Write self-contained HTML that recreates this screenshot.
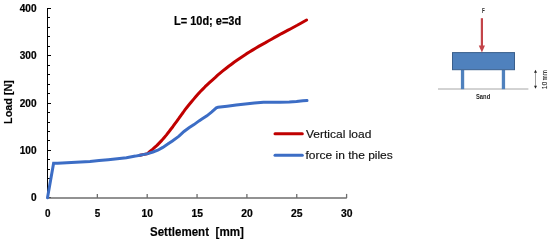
<!DOCTYPE html>
<html><head><meta charset="utf-8"><style>
html,body{margin:0;padding:0;background:#fff;}
body{width:550px;height:242px;overflow:hidden;}
svg{display:block;}
text{font-family:"Liberation Sans",sans-serif;}
</style></head><body>
<svg width="550" height="242" viewBox="0 0 550 242">
<rect width="550" height="242" fill="#fff"/>
<g stroke="#000" stroke-width="1" shape-rendering="crispEdges">
<line x1="47.5" y1="8.4" x2="47.5" y2="198"/>
<line x1="47.5" y1="197.80" x2="51.2" y2="197.80"/><line x1="47.5" y1="188.33" x2="49.8" y2="188.33"/><line x1="47.5" y1="178.86" x2="49.8" y2="178.86"/><line x1="47.5" y1="169.39" x2="49.8" y2="169.39"/><line x1="47.5" y1="159.92" x2="49.8" y2="159.92"/><line x1="47.5" y1="150.45" x2="51.2" y2="150.45"/><line x1="47.5" y1="140.98" x2="49.8" y2="140.98"/><line x1="47.5" y1="131.51" x2="49.8" y2="131.51"/><line x1="47.5" y1="122.04" x2="49.8" y2="122.04"/><line x1="47.5" y1="112.57" x2="49.8" y2="112.57"/><line x1="47.5" y1="103.10" x2="51.2" y2="103.10"/><line x1="47.5" y1="93.63" x2="49.8" y2="93.63"/><line x1="47.5" y1="84.16" x2="49.8" y2="84.16"/><line x1="47.5" y1="74.69" x2="49.8" y2="74.69"/><line x1="47.5" y1="65.22" x2="49.8" y2="65.22"/><line x1="47.5" y1="55.75" x2="51.2" y2="55.75"/><line x1="47.5" y1="46.28" x2="49.8" y2="46.28"/><line x1="47.5" y1="36.81" x2="49.8" y2="36.81"/><line x1="47.5" y1="27.34" x2="49.8" y2="27.34"/><line x1="47.5" y1="17.87" x2="49.8" y2="17.87"/><line x1="47.5" y1="8.40" x2="51.2" y2="8.40"/>
</g>
<g stroke="#6e6e6e" stroke-width="1.3">
<line x1="47" y1="198" x2="346.8" y2="198"/>
<line x1="97.35" y1="198" x2="97.35" y2="193.9"/><line x1="147.20" y1="198" x2="147.20" y2="193.9"/><line x1="197.05" y1="198" x2="197.05" y2="193.9"/><line x1="246.90" y1="198" x2="246.90" y2="193.9"/><line x1="296.75" y1="198" x2="296.75" y2="193.9"/><line x1="346.60" y1="198" x2="346.60" y2="193.9"/>
</g>
<g font-size="9.5" font-weight="bold" fill="#000" stroke="#000" stroke-width="0.2">
<text x="30.9" y="201.3" font-size="10" textLength="5.6" lengthAdjust="spacingAndGlyphs">0</text><text x="19.7" y="154.0" font-size="10" textLength="16.8" lengthAdjust="spacingAndGlyphs">100</text><text x="19.7" y="106.6" font-size="10" textLength="16.8" lengthAdjust="spacingAndGlyphs">200</text><text x="19.7" y="59.3" font-size="10" textLength="16.8" lengthAdjust="spacingAndGlyphs">300</text><text x="19.7" y="11.9" font-size="10" textLength="16.8" lengthAdjust="spacingAndGlyphs">400</text>
<text x="44.9" y="216.8" font-size="10" textLength="5.5" lengthAdjust="spacingAndGlyphs">0</text><text x="94.7" y="216.8" font-size="10" textLength="5.5" lengthAdjust="spacingAndGlyphs">5</text><text x="141.5" y="216.8" font-size="10" textLength="11.5" lengthAdjust="spacingAndGlyphs">10</text><text x="191.4" y="216.8" font-size="10" textLength="11.5" lengthAdjust="spacingAndGlyphs">15</text><text x="241.2" y="216.8" font-size="10" textLength="11.5" lengthAdjust="spacingAndGlyphs">20</text><text x="291.1" y="216.8" font-size="10" textLength="11.5" lengthAdjust="spacingAndGlyphs">25</text><text x="341.0" y="216.8" font-size="10" textLength="11.5" lengthAdjust="spacingAndGlyphs">30</text>
</g>
<text x="150" y="236.4" font-size="12.4" font-weight="bold" stroke="#000" stroke-width="0.15" textLength="59" lengthAdjust="spacingAndGlyphs">Settlement</text><text x="215.6" y="236.4" font-size="12.4" font-weight="bold" stroke="#000" stroke-width="0.15" textLength="28.4" lengthAdjust="spacingAndGlyphs">[mm]</text>
<text transform="translate(11.6,124) rotate(-90)" x="0" y="0" font-size="11.2" font-weight="bold" stroke="#000" stroke-width="0.15" textLength="44" lengthAdjust="spacingAndGlyphs">Load [N]</text>
<text x="174.1" y="24.7" font-size="12" font-weight="bold" stroke="#000" stroke-width="0.2" textLength="67" lengthAdjust="spacingAndGlyphs">L= 10d; e=3d</text>
<polyline points="140.0,155.2 143.0,154.6 147.9,153.6 149.0,152.1 151.8,150.0 154.4,147.7 157.0,145.4 159.4,142.9 161.8,140.4 164.1,137.7 166.3,135.1 168.5,132.3 170.6,129.5 172.8,126.7 174.8,123.9 176.9,121.1 179.0,118.2 181.0,115.3 183.1,112.5 185.1,109.7 187.2,107.0 189.4,104.3 191.5,101.7 193.7,99.1 195.9,96.5 198.1,94.0 200.4,91.5 202.8,89.1 205.1,86.7 207.6,84.3 210.0,82.1 212.6,79.8 215.1,77.6 217.7,75.2 220.4,72.9 223.1,70.7 225.9,68.5 228.7,66.3 231.5,64.2 234.4,62.0 237.3,60.0 240.3,57.9 243.3,55.9 246.3,53.9 249.4,52.0 252.5,50.1 255.6,48.2 258.7,46.4 261.9,44.6 265.1,42.9 268.3,41.0 271.5,39.2 274.7,37.4 277.9,35.6 281.1,33.8 284.4,32.1 287.6,30.4 290.8,28.7 294.0,27.0 297.2,25.3 300.4,23.5 303.5,21.7 306.6,20.0" fill="none" stroke="#C00000" stroke-width="3" stroke-linejoin="round" stroke-linecap="round"/>
<polyline points="47.5,197.8 53.6,163.3 57.6,163.2 71.3,162.5 90.0,161.4 99.1,160.6 108.2,159.7 117.3,158.8 126.4,157.7 135.5,156.1 140.0,155.2 143.0,154.6 147.9,153.6 152.9,152.0 157.8,150.2 162.8,147.4 167.8,144.1 172.4,140.9 179.0,136.2 184.0,131.5 189.0,127.8 194.0,124.6 199.0,120.9 201.9,119.0 206.9,115.8 211.8,111.9 216.3,107.8 218.0,107.3 227.1,106.3 236.2,105.1 245.3,104.0 254.4,103.0 263.5,102.3 271.1,102.2 280.2,102.2 289.3,102.0 296.5,101.5 302.9,100.8 307.0,100.6" fill="none" stroke="#3C6DC5" stroke-width="3" stroke-linejoin="miter" stroke-miterlimit="6" stroke-linecap="round"/>
<line x1="275" y1="133.8" x2="302.3" y2="133.8" stroke="#C00000" stroke-width="3" stroke-linecap="round"/>
<line x1="275" y1="155.2" x2="302.3" y2="155.2" stroke="#3C6DC5" stroke-width="3" stroke-linecap="round"/>
<text x="306" y="137.6" font-size="10.6" textLength="65.3" lengthAdjust="spacingAndGlyphs" fill="#111" stroke="#111" stroke-width="0.15">Vertical load</text>
<text x="305.5" y="158.7" font-size="10.6" textLength="87.3" lengthAdjust="spacingAndGlyphs" fill="#111" stroke="#111" stroke-width="0.15">force in the piles</text>
<!-- diagram -->
<line x1="438" y1="89" x2="528.4" y2="89" stroke="#a6a6a6" stroke-width="1"/>
<rect x="460.9" y="70" width="3.3" height="19.2" fill="#4F81BD"/>
<rect x="501.8" y="70" width="3.3" height="19.2" fill="#4F81BD"/>
<rect x="452.5" y="52.6" width="62" height="17.1" fill="#4F81BD" stroke="#3A5F8C" stroke-width="1"/>
<line x1="481.9" y1="18.2" x2="481.9" y2="46.5" stroke="#C34449" stroke-width="2.2"/>
<polygon points="478.8,45.5 485,45.5 481.9,52.6" fill="#C34449"/>
<text x="482.1" y="13.2" font-size="6.8" fill="#2a2a2a" font-weight="bold" textLength="2.8" lengthAdjust="spacingAndGlyphs">F</text>
<text x="483.1" y="98.6" font-size="6.4" text-anchor="middle" fill="#1e1e1e" font-weight="bold" textLength="14.2" lengthAdjust="spacingAndGlyphs">Sand</text>
<line x1="535.5" y1="72" x2="535.5" y2="86.5" stroke="#888" stroke-width="0.8"/>
<polygon points="534,72.8 537,72.8 535.5,69.7" fill="#222"/>
<polygon points="534,85.8 537,85.8 535.5,88.8" fill="#222"/>
<text transform="translate(546.5,89.2) rotate(-90)" font-size="6.3" fill="#2a2a2a" stroke="#2a2a2a" stroke-width="0.1"><tspan textLength="7.6" lengthAdjust="spacingAndGlyphs">10</tspan><tspan x="8.8" textLength="10.4" lengthAdjust="spacingAndGlyphs">mm</tspan></text>
</svg>
</body></html>
